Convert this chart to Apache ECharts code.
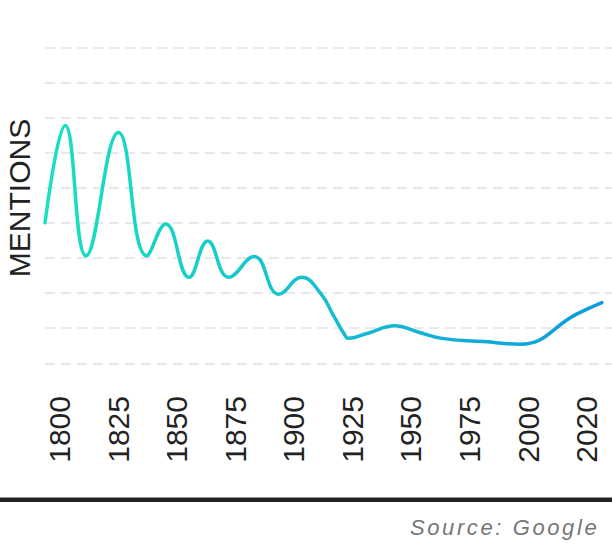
<!DOCTYPE html>
<html>
<head>
<meta charset="utf-8">
<script src="https://cdn.jsdelivr.net/npm/echarts@6/dist/echarts.min.js"></script>
<style>
  html, body { margin: 0; padding: 0; background: #ffffff; }
  #chart { width: 612px; height: 544px; }
</style>
</head>
<body>
<div id="chart"></div>
<script>
// Data
const years = [1800, 1808, 1816.2, 1829, 1840.2, 1847.7, 1856.9, 1864.3, 1872.6, 1882.6, 1892.4, 1901.4, 1908.9, 1914.2, 1918.1, 1919.9, 1927.2, 1938.4, 1947, 1956.8, 1973.3, 1987.7, 2010, 2020];
const mentions = [4.0, 6.77, 3.06, 6.57, 3.06, 3.97, 2.45, 3.48, 2.45, 3.04, 1.97, 2.45, 1.99, 1.33, 0.85, 0.71, 0.85, 1.07, 0.90, 0.71, 0.62, 0.54, 1.40, 1.73];
const tickLabels = ['1800', '1825', '1850', '1875', '1900', '1925', '1950', '1975', '2000', '2020'];
const yAxisTitle = 'MENTIONS';
const sourceText = 'Source: Google';

const seriesData = years.map((y, i) => [y, mentions[i]]);

const chart = echarts.init(document.getElementById('chart'), null, { renderer: 'svg' });
const FONT = '"Liberation Sans", Arial, Helvetica, sans-serif';

chart.setOption({
  animation: false,
  backgroundColor: '#ffffff',
  grid: [
    { left: 45, right: 0, top: 47.3, bottom: 180.7 },
    { left: 59.5, right: 25.3, top: 47.3, bottom: 156 }
  ],
  xAxis: [
    { type: 'value', gridIndex: 0, min: 1800, max: 2024, show: false },
    {
      type: 'category', gridIndex: 1, boundaryGap: false, data: tickLabels,
      axisLine: { show: false }, axisTick: { show: false }, splitLine: { show: false },
      axisLabel: { rotate: 90, margin: 8, fontSize: 30, color: '#222222', fontFamily: FONT, interval: 0 }
    }
  ],
  yAxis: [
    {
      type: 'value', gridIndex: 0, min: 0, max: 9, interval: 1,
      axisLine: { show: false }, axisTick: { show: false }, axisLabel: { show: false },
      splitLine: { show: true, lineStyle: { color: '#e6e8ec', width: 2, type: [10, 6] } }
    },
    { type: 'value', gridIndex: 1, min: 0, max: 1, show: false }
  ],
  series: [{
    type: 'line',
    xAxisIndex: 0, yAxisIndex: 0,
    data: seriesData,
    smooth: 0.45,
    showSymbol: false,
    lineStyle: {
      width: 3.5,
      cap: 'round',
      join: 'round',
      color: {
        type: 'linear', x: 0, y: 0, x2: 1, y2: 0,
        colorStops: [
          { offset: 0, color: '#19e0bf' },
          { offset: 0.5, color: '#16bfd0' },
          { offset: 1, color: '#0b9be0' }
        ]
      }
    }
  }],
  graphic: [
    {
      type: 'text', x: 19, y: 198, rotation: Math.PI / 2,
      style: { text: yAxisTitle, fill: '#222222', font: '30px ' + FONT, align: 'center', verticalAlign: 'middle' }
    },
    {
      type: 'rect', shape: { x: 0, y: 497.5, width: 612, height: 4.5 },
      style: { fill: '#222222' }
    },
    {
      type: 'text', id: 'src', x: 410, y: 527,
      style: { text: sourceText, fill: '#777777', font: 'italic 22px ' + FONT, align: 'left', verticalAlign: 'middle' }
    }
  ]
});

function applySpacing() {
  document.querySelectorAll('#chart svg text').forEach(t => {
    if (t.textContent === sourceText) {
      t.style.letterSpacing = '2.6px';
    }
  });
}
applySpacing();
chart.on('finished', applySpacing);
</script>
</body>
</html>
